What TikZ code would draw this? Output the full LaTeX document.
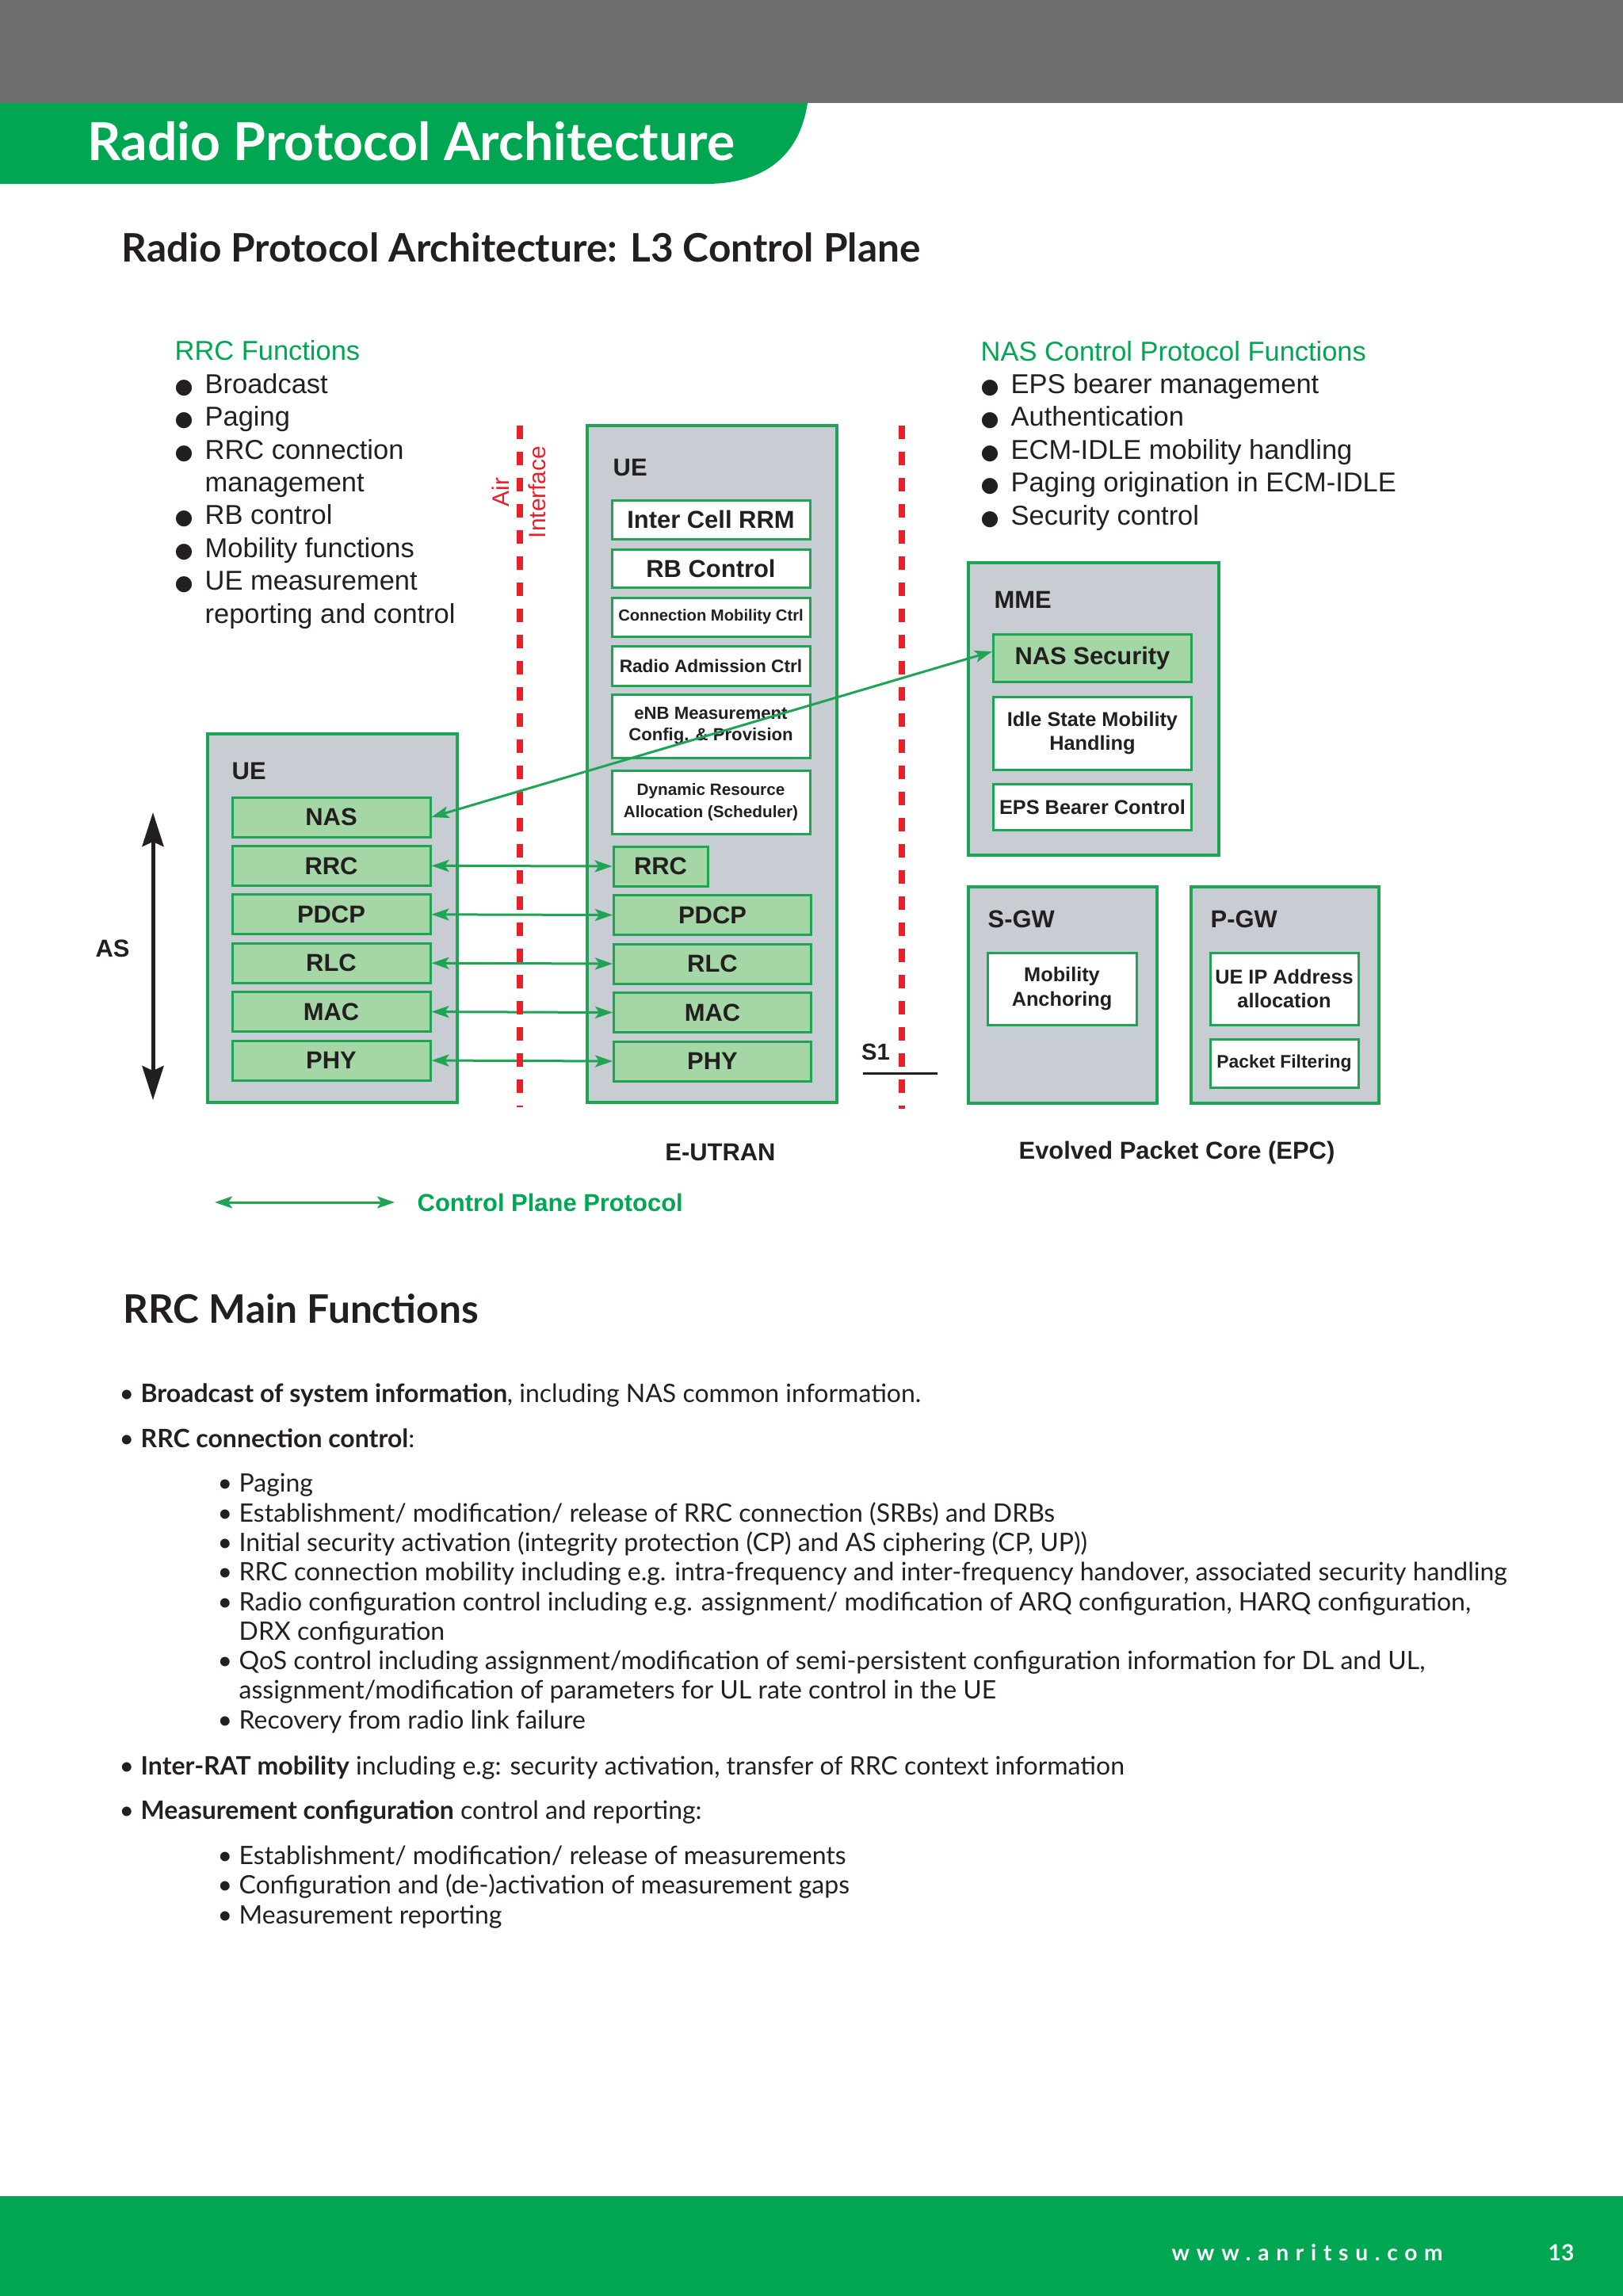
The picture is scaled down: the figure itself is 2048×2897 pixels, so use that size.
\documentclass[tikz,border=0pt]{standalone}
\usepackage{fontspec}
\setmainfont{Liberation Sans}
\newfontfamily\avfont{Lato}
\newfontfamily\wwwfont[LetterSpace=31]{Lato}
\newfontfamily\symfont{DejaVu Sans}
\usetikzlibrary{arrows.meta,positioning}

\definecolor{anrgreen}{RGB}{0,166,81}
\definecolor{boxgreen}{RGB}{30,164,82}
\definecolor{layerfill}{RGB}{164,214,166}
\definecolor{panelgray}{RGB}{200,205,211}
\definecolor{airred}{RGB}{232,32,42}
\definecolor{topgray}{RGB}{111,111,111}
\definecolor{ink}{RGB}{35,31,32}

\newcommand{\bul}{\makebox[3.8mm][l]{\symfont\fontsize{7.5}{7.5}\selectfont ●}}
\newcommand{\indentbul}{\hspace*{3.8mm}}
\newcommand{\dotbul}{\makebox[2.7mm][l]{•}}

\begin{document}
\begin{tikzpicture}[x=0.1mm, y=-0.1mm, >={Stealth[length=2.2mm,width=1.5mm,inset=0.5mm]},
  txt/.style={inner sep=0, text=ink},
  lab/.style={txt, font=\fontsize{8.8}{10}\selectfont\bfseries},
  midlab/.style={font=\fontsize{7.2}{8.6}\selectfont\bfseries},
  listtxt/.style={txt, anchor=base west, align=left, font=\fontsize{9.8}{11.78}\selectfont},
  bodytxt/.style={txt, anchor=base west, align=left, font=\avfont\fontsize{9.1}{10.6}\selectfont},
  head/.style={txt, anchor=base west, font=\avfont\bfseries\fontsize{14.1}{16}\selectfont},
  panel/.style={draw=boxgreen, fill=panelgray, line width=0.35mm, inner sep=0},
  layer/.style={lab, draw=boxgreen, fill=layerfill, line width=0.3mm, minimum width=25mm, minimum height=5mm},
  funcbox/.style={txt, draw=boxgreen, fill=white, line width=0.3mm, minimum width=25mm, align=center,
    font=\fontsize{6.3}{7.8}\selectfont\bfseries},
  cplink/.style={<->, draw=boxgreen, line width=0.3mm},
  airline/.style={airred, line width=0.8mm, dash pattern=on 1.7mm off 1.6mm}]

% page frame
\useasboundingbox (0,0) rectangle (2048,2897);
\fill[white] (0,0) rectangle (2048,2897);
\fill[topgray] (0,0) rectangle (2048,130);
\fill[anrgreen] (0,130) -- (1019,130) .. controls (1010,190) and (972,232) .. (890,232) -- (0,232) -- cycle;
\fill[anrgreen] (0,2771) rectangle (2048,2897);

\node[txt, anchor=base west, text=white, font=\avfont\bfseries\fontsize{18.8}{20}\selectfont] (title) at (110,202) {Radio Protocol Architecture};
\node[head] (subtitle) at (153,330) {Radio Protocol Architecture: L3 Control Plane};

% function lists (base = last line)
\node[listtxt] (rrcfun) at (220,786) {{\color{anrgreen}RRC Functions}\\
  \bul Broadcast\\
  \bul Paging\\
  \bul RRC connection\\
  \indentbul management\\
  \bul RB control\\
  \bul Mobility functions\\
  \bul UE measurement\\
  \indentbul reporting and control};
\node[listtxt] (nasfun) at (1237,662) {{\color{anrgreen}NAS Control Protocol Functions}\\
  \bul EPS bearer management\\
  \bul Authentication\\
  \bul ECM-IDLE mobility handling\\
  \bul Paging origination in ECM-IDLE\\
  \bul Security control};

% UE
\node[panel, minimum width=31.5mm, minimum height=46.5mm] (ue) at (419.5,1158.5) {};
\node[lab, anchor=west] (uelab) at (292,973) {UE};
\node[layer] (uenas) at (418,1031) {NAS};
\node[layer, below=0.84mm of uenas] (uerrc) {RRC};
\node[layer, below=0.84mm of uerrc] (uepdcp) {PDCP};
\node[layer, below=0.84mm of uepdcp] (uerlc) {RLC};
\node[layer, below=0.84mm of uerlc] (uemac) {MAC};
\node[layer, below=0.84mm of uemac] (uephy) {PHY};

% eNB
\node[panel, minimum width=31.5mm, minimum height=85.4mm] (enb) at (898.5,964) {};
\node[lab, anchor=west] (enblab) at (773,590) {UE};
\node[funcbox, lab, minimum height=4.9mm] (icrrm) at (897,655.5) {Inter Cell RRM};
\node[funcbox, lab, minimum height=4.8mm, below=1mm of icrrm] (rbctl) {RB Control};
\node[funcbox, font=\fontsize{5.75}{7}\selectfont\bfseries, minimum height=4.9mm, below=1mm of rbctl] (cmc) {Connection Mobility Ctrl};
\node[funcbox, font=\fontsize{6.45}{7.8}\selectfont\bfseries, minimum height=5mm, below=0.9mm of cmc] (rac) {Radio Admission Ctrl};
\node[funcbox, minimum height=8mm, below=0.8mm of rac] (meas) {eNB Measurement\\Config. \& Provision};
\node[funcbox, font=\fontsize{5.9}{7.8}\selectfont\bfseries, minimum height=8mm, below=1.3mm of meas] (sched) {Dynamic Resource\\Allocation (Scheduler)};
\node[layer, minimum width=11.9mm] (enbrrc) at (833.5,1093) {RRC};
\node[layer, minimum width=24.9mm] (enbpdcp) at (899,1154.5) {PDCP};
\node[layer, minimum width=24.9mm, below=0.85mm of enbpdcp] (enbrlc) {RLC};
\node[layer, minimum width=24.9mm, below=0.85mm of enbrlc] (enbmac) {MAC};
\node[layer, minimum width=24.9mm, below=0.85mm of enbmac] (enbphy) {PHY};

% MME
\node[panel, minimum width=31.6mm, minimum height=36.9mm] (mme) at (1380,894.5) {};
\node[lab, anchor=west] (mmelab) at (1254,757) {MME};
\node[funcbox, lab, fill=layerfill, minimum height=6mm] (nassec) at (1378.5,830) {NAS Security};
\node[funcbox, midlab, minimum height=9.2mm, below=1.6mm of nassec] (idle) {Idle State Mobility\\Handling};
\node[funcbox, midlab, minimum height=5.8mm, below=1.5mm of idle] (epsbc) {EPS Bearer Control};

% S-GW and P-GW
\node[panel, minimum width=23.8mm, minimum height=27.3mm] (sgw) at (1341,1255.5) {};
\node[lab, anchor=west] (sgwlab) at (1246,1160) {S-GW};
\node[funcbox, midlab, minimum width=18.8mm, minimum height=9.1mm] (mobanc) at (1340,1247.5) {Mobility\\Anchoring};
\node[panel, minimum width=23.7mm, minimum height=27.3mm] (pgw) at (1621.5,1255.5) {};
\node[lab, anchor=west] (pgwlab) at (1527,1160) {P-GW};
\node[funcbox, midlab, minimum width=18.7mm, minimum height=9.1mm] (ueip) at (1620.5,1247.5) {UE IP Address\\allocation};
\node[funcbox, font=\fontsize{6.5}{8}\selectfont\bfseries, minimum width=18.7mm, minimum height=6.1mm, below=1.5mm of ueip] (pktf) {Packet Filtering};

% control plane peers
\draw[cplink] (uerrc.east) -- (enbrrc.west);
\draw[cplink] (uepdcp.east) -- (enbpdcp.west);
\draw[cplink] (uerlc.east) -- (enbrlc.west);
\draw[cplink] (uemac.east) -- (enbmac.west);
\draw[cplink] (uephy.east) -- (enbphy.west);

% interfaces
\draw[line width=0.3mm, ink] (1089,1354) -- (1183,1354);
\node[lab, font=\fontsize{8.3}{10}\selectfont\bfseries] (s1lab) at (1105,1327) {S1};
\draw[airline] (656,537) -- (656,1397);
\draw[airline] (1138,537) -- (1138,1399);
\node[txt, text=airred, rotate=90, align=center, font=\fontsize{8.5}{13.1}\selectfont] (airlab) at (655,621) {Air\\Interface};

\draw[cplink] (uenas.east) -- ([yshift=0.8mm]nassec.west);

% AS span
\coordinate (astop) at (193,1025);
\coordinate (asbot) at (193,1388);
\draw[{Stealth[length=4.3mm,width=2.7mm,inset=0.6mm]}-{Stealth[length=4.3mm,width=2.7mm,inset=0.6mm]}, line width=0.5mm, ink] (astop) -- (asbot);
\node[lab] (aslab) at (142,1197) {AS};

\node[lab] (eutran) at (909,1454) {E-UTRAN};
\node[lab] (epc) at (1485,1454) {Evolved Packet Core (EPC)};

% legend
\coordinate (legl) at (271,1517);
\coordinate (legr) at (498,1517);
\draw[cplink] (legl) -- (legr);
\node[lab, anchor=west, text=anrgreen] (leglab) at (526,1517) {Control Plane Protocol};

% RRC main functions
\node[head] (rrcmain) at (155,1669) {RRC Main Functions};
\node[bodytxt] (bcast) at (150,1769) {\dotbul\textbf{Broadcast of system information}, including NAS common information.};
\node[bodytxt] (connctl) at (150,1826) {\dotbul\textbf{RRC connection control}:};
\node[bodytxt] (connsub) at (274,2181) {\dotbul Paging\\
  \dotbul Establishment/ modification/ release of RRC connection (SRBs) and DRBs\\
  \dotbul Initial security activation (integrity protection (CP) and AS ciphering (CP, UP))\\
  \dotbul RRC connection mobility including e.g. intra-frequency and inter-frequency handover, associated security handling\\
  \dotbul Radio configuration control including e.g. assignment/ modification of ARQ configuration, HARQ configuration,\\
  \hspace*{2.7mm}DRX configuration\\
  \dotbul QoS control including assignment/modification of semi-persistent configuration information for DL and UL,\\
  \hspace*{2.7mm}assignment/modification of parameters for UL rate control in the UE\\
  \dotbul Recovery from radio link failure};
\node[bodytxt] (interrat) at (150,2239) {\dotbul\textbf{Inter-RAT mobility} including e.g: security activation, transfer of RRC context information};
\node[bodytxt] (meascfg) at (150,2295) {\dotbul\textbf{Measurement configuration} control and reporting:};
\node[bodytxt] (meassub) at (274,2427) {\dotbul Establishment/ modification/ release of measurements\\
  \dotbul Configuration and (de-)activation of measurement gaps\\
  \dotbul Measurement reporting};

% footer
\node[txt, anchor=base west, text=white, font=\wwwfont\bfseries\fontsize{8}{10}\selectfont] (www) at (1478,2852) {www.anritsu.com};
\node[txt, anchor=base west, text=white, font=\avfont\bfseries\fontsize{8}{10}\selectfont] (pagenum) at (1953,2852) {13};
\end{tikzpicture}
\end{document}
